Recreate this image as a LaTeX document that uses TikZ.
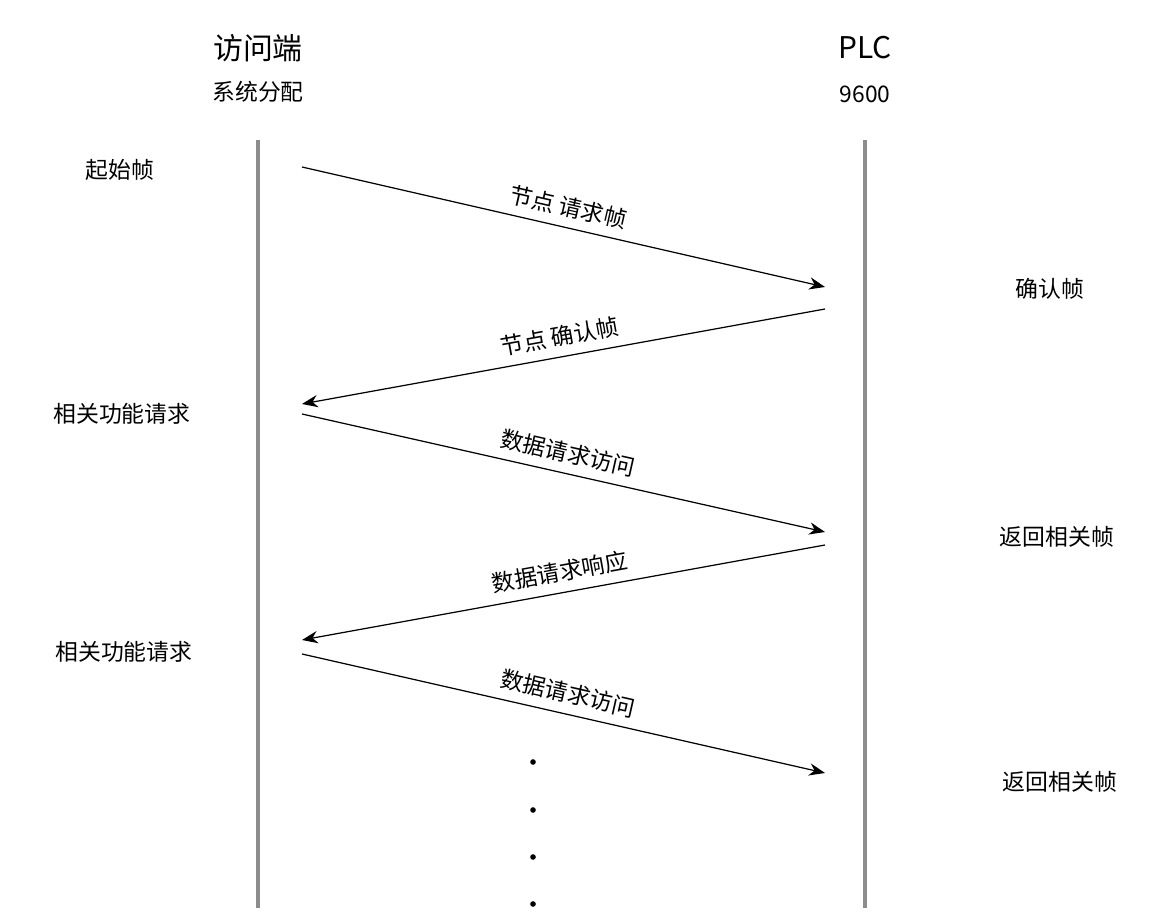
\documentclass[tikz,border=0pt]{standalone}
\usepackage{fontspec}
\setmainfont{Noto Sans CJK SC}
\usetikzlibrary{arrows.meta}
\tikzset{
  lifeline/.style = {draw=black!45, line width=2.2pt},
  msg/.style = {draw, line width=0.7pt, -{Stealth[length=9pt,width=7pt]}},
  msglabel/.style = {midway, above=2pt, sloped, font=\fontsize{13}{15}\selectfont},
  side/.style = {font=\fontsize{13}{15}\selectfont},
  head/.style = {font=\fontsize{17}{20}\selectfont},
}
\begin{document}
\begin{tikzpicture}[x=0.02cm, y=-0.02cm]
	\useasboundingbox (0,0) rectangle (1174,918);
	% lifelines
	\node [head] (client) at (258,48) {访问端};
	\node [side] (clientport) at (258,92) {系统分配};
	\node [head] (plc) at (865,48) {PLC};
	\node [side] (plcport) at (865,94) {9600};
	\coordinate (ctop) at (258,140);
	\coordinate (cbot) at (258,908);
	\coordinate (ptop) at (865,140);
	\coordinate (pbot) at (865,908);
	\draw [lifeline] (ctop) -- (cbot);
	\draw [lifeline] (ptop) -- (pbot);
	% messages
	\coordinate (s1) at (302,167);  \coordinate (e1) at (825,287);
	\coordinate (s2) at (825,309);  \coordinate (e2) at (302,404);
	\coordinate (s3) at (302,414);  \coordinate (e3) at (825,532);
	\coordinate (s4) at (825,545);  \coordinate (e4) at (302,640);
	\coordinate (s5) at (302,654);  \coordinate (e5) at (825,773);
	\draw [msg] (s1) -- node [msglabel] {节点 请求帧} (e1);
	\draw [msg] (s2) -- node [msglabel] {节点 确认帧} (e2);
	\draw [msg] (s3) -- node [msglabel] {数据请求访问} (e3);
	\draw [msg] (s4) -- node [msglabel] {数据请求响应} (e4);
	\draw [msg] (s5) -- node [msglabel] {数据请求访问} (e5);
	% side notes
	\node [side] (start) at (120,170) {起始帧};
	\node [side] (req1) at (122,414) {相关功能请求};
	\node [side] (req2) at (124,652) {相关功能请求};
	\node [side] (ack) at (1050,289) {确认帧};
	\node [side] (ret1) at (1057,537) {返回相关帧};
	\node [side] (ret2) at (1060,782) {返回相关帧};
	% continuation
	\foreach \y [count=\i] in {762,810,857,904}
		\fill (533,\y) circle (1.6pt) coordinate (dot\i);
\end{tikzpicture}
\end{document}
